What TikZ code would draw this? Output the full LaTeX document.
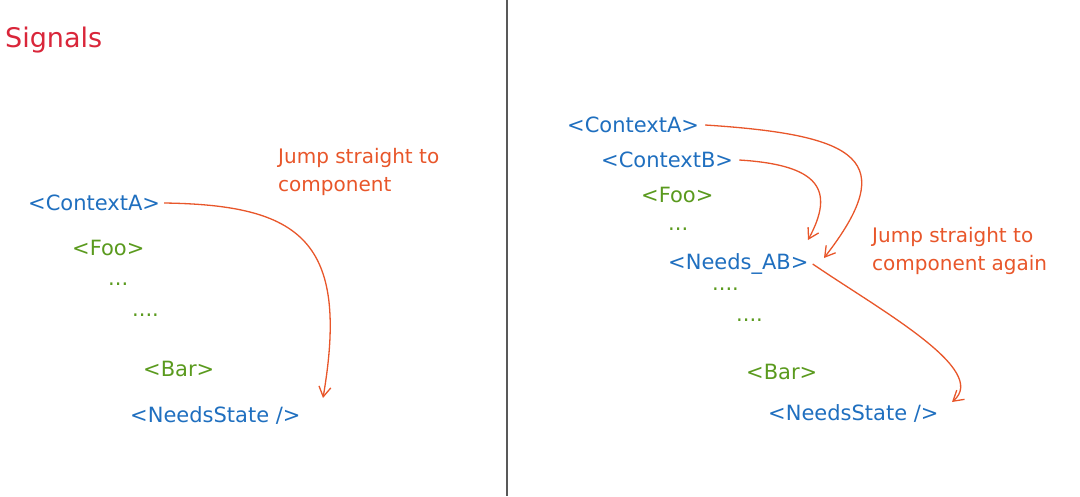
\documentclass[tikz,border=0pt]{standalone}
\usepackage{fontspec}
\setmainfont{DejaVu Sans}
\usetikzlibrary{arrows.meta}
\definecolor{cblue}{HTML}{1F6FBF}
\definecolor{cgreen}{HTML}{5A9A1E}
\definecolor{corange}{HTML}{E8562A}
\definecolor{cred}{HTML}{D9263A}
\tikzset{
 code/.style={anchor=west,inner sep=0pt,font=\fontsize{21}{24}\selectfont},
 bl/.style={code,text=cblue},
 gr/.style={code,text=cgreen},
 note/.style={anchor=north west,inner sep=0pt,align=left,text=corange,font=\fontsize{20}{28}\selectfont},
 arr/.style={draw=corange,line width=1.3pt,-{Straight Barb[length=10pt,width=12pt,line width=1.3pt]}}
}
\begin{document}
\begin{tikzpicture}[x=1pt,y=-1pt]
\useasboundingbox (0,0) rectangle (1080,496);
\draw[gray!70!black,line width=1.5pt] (507,0) -- (507,496);
\node[anchor=west,inner sep=0pt,text=cred,font=\fontsize{27}{30}\selectfont] (sig) at (5,40) {Signals};
% left
\node[bl] (lca) at (28,203) {<ContextA>};
\node[gr] (lfoo) at (72,248) {<Foo>};
\node[gr] (ld1) at (108,284) {...};
\node[gr] (ld2) at (132,315) {....};
\node[gr] (lbar) at (143,369) {<Bar>};
\node[bl] (lns) at (130,415) {<NeedsState />};
\node[note] (ln) at (278,148) {Jump straight to\\component};
\coordinate (lend) at (323,398);
\draw[arr] ([xshift=4pt]lca.east) .. controls (300,205) and (350,240) .. (lend);
% right
\node[bl] (rca) at (567,125) {<ContextA>};
\node[bl] (rcb) at (601,160) {<ContextB>};
\node[gr] (rfoo) at (641,195) {<Foo>};
\node[gr] (rd0) at (668,229) {...};
\node[bl] (rab) at (668,264) {<Needs\_AB>};
\node[gr] (rd1) at (712,289) {....};
\node[gr] (rd2) at (736,320) {....};
\node[gr] (rbar) at (746,372) {<Bar>};
\node[bl] (rns) at (768,413) {<NeedsState />};
\node[note] (rn) at (872,227) {Jump straight to\\component again};
\draw[arr] ([xshift=6pt]rca.east) .. controls (860,135) and (900,160) .. (824,258);
\draw[arr] ([xshift=6pt]rcb.east) .. controls (820,165) and (835,190) .. (808,240);
\draw[arr] ([xshift=4pt]rab.east) .. controls (880,310) and (990,370) .. (952,402);
\end{tikzpicture}
\end{document}
